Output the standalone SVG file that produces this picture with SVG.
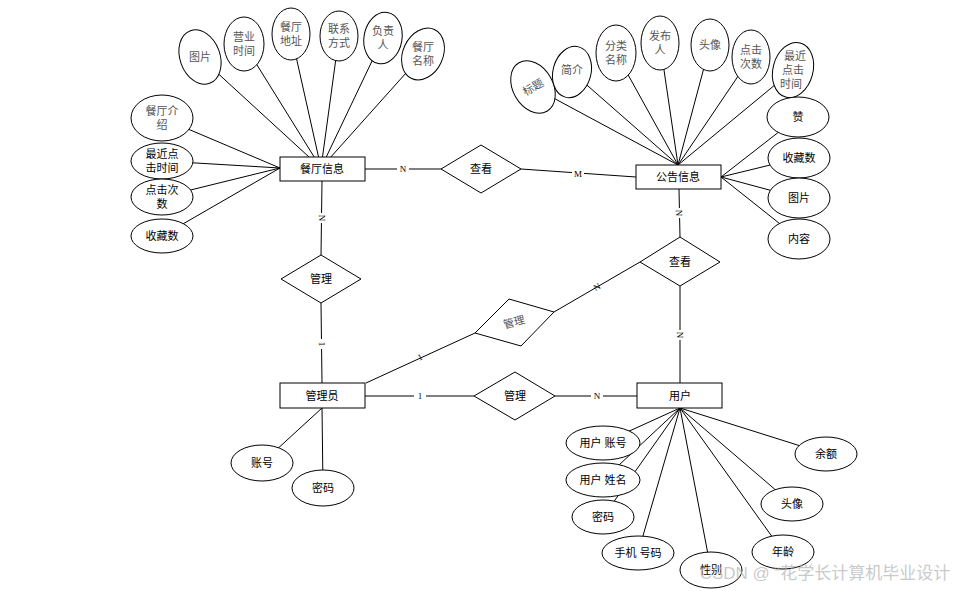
<svg xmlns="http://www.w3.org/2000/svg" width="971" height="591" viewBox="0 0 971 591">
<style>
.e{fill:#fff;stroke:#000;stroke-width:1}
.r{fill:#fff;stroke:#000;stroke-width:1}
.c line,.c polyline{stroke:#000;stroke-width:1;fill:none}
text{font-family:"Liberation Sans","Noto Sans CJK SC",sans-serif;font-size:11px;text-anchor:middle;dominant-baseline:central;fill:#000}
.l{font-family:"Liberation Serif",serif;font-size:9px}
.g{fill:#555}
</style>
<rect width="971" height="591" fill="#fff"/>
<g id="connectors" class="c">
<line x1="321" y1="168" x2="200" y2="57"/><line x1="321" y1="168" x2="244" y2="44"/><line x1="321" y1="168" x2="291" y2="34"/><line x1="321" y1="168" x2="339" y2="36"/><line x1="321" y1="168" x2="383" y2="38"/><line x1="321" y1="168" x2="423" y2="54"/>
<line x1="280" y1="168" x2="162" y2="118"/><line x1="280" y1="168" x2="162" y2="161"/><line x1="280" y1="168" x2="162" y2="197"/><line x1="280" y1="168" x2="162" y2="236"/>
<line x1="678" y1="165" x2="533" y2="87"/><line x1="678" y1="165" x2="572" y2="72"/><line x1="678" y1="165" x2="616" y2="53"/><line x1="678" y1="165" x2="660" y2="43"/><line x1="678" y1="165" x2="710" y2="45"/><line x1="678" y1="165" x2="751" y2="57"/><line x1="678" y1="165" x2="793" y2="70"/>
<line x1="721" y1="177" x2="798" y2="117"/><line x1="721" y1="177" x2="799" y2="158"/><line x1="721" y1="177" x2="799" y2="198"/><line x1="721" y1="177" x2="799" y2="239"/>
<line x1="365" y1="169" x2="441" y2="169"/><line x1="521" y1="169" x2="636" y2="177"/>
<line x1="679" y1="189" x2="680" y2="237"/><line x1="680" y1="286" x2="680" y2="383"/>
<line x1="322" y1="181" x2="321" y2="255"/><line x1="321" y1="303" x2="322" y2="383"/>
<line x1="366" y1="383" x2="475" y2="333"/><line x1="554" y1="312" x2="640" y2="262"/>
<line x1="365" y1="396" x2="474" y2="396"/><line x1="555" y1="396" x2="637" y2="396"/>
<line x1="322" y1="408" x2="262" y2="463"/><line x1="322" y1="408" x2="323" y2="488"/>
<line x1="680" y1="408" x2="603" y2="443"/><line x1="680" y1="408" x2="603" y2="480"/><line x1="680" y1="408" x2="603" y2="517"/><line x1="680" y1="408" x2="638" y2="553"/><line x1="680" y1="408" x2="711" y2="570"/><line x1="680" y1="408" x2="783" y2="552"/><line x1="680" y1="408" x2="792" y2="504"/><line x1="680" y1="408" x2="826" y2="454"/>
</g>
<g id="labels">
<rect x="397" y="163" width="12" height="12" fill="#fff"/><text class="l" x="403" y="169">N</text>
<rect x="572" y="168" width="12" height="12" fill="#fff"/><text class="l" x="578" y="174">M</text>
<rect x="674" y="208" width="10" height="10" fill="#fff"/><text class="l" x="679" y="213" transform="rotate(90 679 213)">N</text>
<rect x="675" y="330" width="10" height="10" fill="#fff"/><text class="l" x="680" y="335" transform="rotate(90 680 335)">N</text>
<rect x="317" y="213" width="10" height="10" fill="#fff"/><text class="l" x="322" y="218" transform="rotate(90 322 218)">N</text>
<rect x="317" y="339" width="10" height="10" fill="#fff"/><text class="l" x="322" y="344" transform="rotate(90 322 344)">1</text>
<text class="l" x="420" y="357" transform="rotate(-25 420 357)">1</text>
<text class="l" x="597" y="287" transform="rotate(-30 597 287)">N</text>
<rect x="414" y="390" width="12" height="12" fill="#fff"/><text class="l" x="420" y="396">1</text>
<rect x="591" y="390" width="12" height="12" fill="#fff"/><text class="l" x="597" y="396">N</text>
</g>
<g id="餐厅信息"><rect class="r" x="280" y="157" width="85" height="24"/><text x="322" y="169">餐厅信息</text></g>
<g id="公告信息"><rect class="r" x="636" y="165" width="85" height="24"/><text x="678" y="177">公告信息</text></g>
<g id="管理员"><rect class="r" x="280" y="383" width="85" height="25"/><text x="322" y="396">管理员</text></g>
<g id="用户"><rect class="r" x="637" y="383" width="85" height="25"/><text x="680" y="396">用户</text></g>
<g id="查看1"><polygon class="e" points="441,169 481,145 521,169 481,193"/><text x="481" y="169">查看</text></g>
<g id="查看2"><polygon class="e" points="640,262 680,237 720,262 680,286"/><text x="680" y="262">查看</text></g>
<g id="管理1"><polygon class="e" points="281,279 321,255 361,279 321,303"/><text x="321" y="279">管理</text></g>
<g id="管理2"><polygon class="e" points="475,333 509,299 554,312 521,346"/><text class="g" x="514" y="322" transform="rotate(-15 514 322)">管理</text></g>
<g id="管理3"><polygon class="e" points="474,396 515,372 555,396 515,420"/><text x="515" y="396">管理</text></g>
<g id="a1"><ellipse class="e" cx="200" cy="57" rx="20" ry="28" transform="rotate(-20 200 57)"/><text class="g" x="200" y="57">图片</text></g>
<g id="a2"><ellipse class="e" cx="244" cy="44" rx="20" ry="27"/><text class="g" x="244" y="37">营业</text><text class="g" x="244" y="51">时间</text></g>
<g id="a3"><ellipse class="e" cx="291" cy="34" rx="19" ry="26"/><text class="g" x="291" y="27">餐厅</text><text class="g" x="291" y="41">地址</text></g>
<g id="a4"><ellipse class="e" cx="339" cy="36" rx="19" ry="25"/><text class="g" x="339" y="29">联系</text><text class="g" x="339" y="43">方式</text></g>
<g id="a5"><ellipse class="e" cx="383" cy="38" rx="19" ry="26" transform="rotate(10 383 38)"/><text class="g" x="383" y="31">负责</text><text class="g" x="383" y="45">人</text></g>
<g id="a6"><ellipse class="e" cx="423" cy="54" rx="20" ry="27" transform="rotate(25 423 54)"/><text class="g" x="423" y="47">餐厅</text><text class="g" x="423" y="61">名称</text></g>
<g id="a7"><ellipse class="e" cx="162" cy="118" rx="31" ry="23"/><text class="g" x="162" y="111">餐厅介</text><text class="g" x="162" y="125">绍</text></g>
<g id="a8"><ellipse class="e" cx="162" cy="161" rx="31" ry="18"/><text x="162" y="154">最近点</text><text x="162" y="168">击时间</text></g>
<g id="a9"><ellipse class="e" cx="162" cy="197" rx="31" ry="18"/><text x="162" y="190">点击次</text><text x="162" y="204">数</text></g>
<g id="a10"><ellipse class="e" cx="162" cy="236" rx="31" ry="17"/><text x="162" y="236">收藏数</text></g>
<g id="b1"><ellipse class="e" cx="533" cy="87" rx="20" ry="28" transform="rotate(-30 533 87)"/><text class="g" x="533" y="87" transform="rotate(-30 533 87)">标题</text></g>
<g id="b2"><ellipse class="e" cx="572" cy="72" rx="19" ry="26" transform="rotate(15 572 72)"/><text class="g" x="572" y="70">简介</text></g>
<g id="b3"><ellipse class="e" cx="616" cy="53" rx="20" ry="28"/><text class="g" x="616" y="46">分类</text><text class="g" x="616" y="60">名称</text></g>
<g id="b4"><ellipse class="e" cx="660" cy="43" rx="19" ry="27"/><text class="g" x="660" y="36">发布</text><text class="g" x="660" y="50">人</text></g>
<g id="b5"><ellipse class="e" cx="710" cy="45" rx="19" ry="26"/><text class="g" x="710" y="45">头像</text></g>
<g id="b6"><ellipse class="e" cx="751" cy="57" rx="19" ry="27"/><text class="g" x="751" y="50">点击</text><text class="g" x="751" y="64">次数</text></g>
<g id="b7"><ellipse class="e" cx="793" cy="70" rx="20" ry="28" transform="rotate(15 793 70)"/><text class="g" x="795" y="56">最近</text><text class="g" x="793" y="70">点击</text><text class="g" x="791" y="84">时间</text></g>
<g id="b8"><ellipse class="e" cx="798" cy="117" rx="31" ry="20"/><text x="798" y="117">赞</text></g>
<g id="b9"><ellipse class="e" cx="799" cy="158" rx="31" ry="20"/><text x="799" y="158">收藏数</text></g>
<g id="b10"><ellipse class="e" cx="799" cy="198" rx="31" ry="20"/><text x="799" y="198">图片</text></g>
<g id="b11"><ellipse class="e" cx="799" cy="239" rx="31" ry="20"/><text x="799" y="239">内容</text></g>
<g id="c1"><ellipse class="e" cx="262" cy="463" rx="31" ry="18"/><text x="262" y="463">账号</text></g>
<g id="c2"><ellipse class="e" cx="323" cy="488" rx="31" ry="18"/><text x="323" y="488">密码</text></g>
<g id="d1"><ellipse class="e" cx="603" cy="443" rx="37" ry="17"/><text x="603" y="443">用户 账号</text></g>
<g id="d2"><ellipse class="e" cx="603" cy="480" rx="37" ry="17"/><text x="603" y="480">用户 姓名</text></g>
<g id="d3"><ellipse class="e" cx="603" cy="517" rx="31" ry="17"/><text x="603" y="517">密码</text></g>
<g id="d4"><ellipse class="e" cx="638" cy="553" rx="36" ry="17"/><text x="638" y="553">手机 号码</text></g>
<g id="d5"><ellipse class="e" cx="711" cy="570" rx="31" ry="18"/><text x="711" y="570">性别</text></g>
<g id="d6"><ellipse class="e" cx="783" cy="552" rx="31" ry="17"/><text x="783" y="552">年龄</text></g>
<g id="d7"><ellipse class="e" cx="792" cy="504" rx="31" ry="17"/><text x="792" y="504">头像</text></g>
<g id="d8"><ellipse class="e" cx="826" cy="454" rx="31" ry="17"/><text x="826" y="454">余额</text></g>
<text x="825" y="573" style="font-size:17px;fill:#bbb;fill-opacity:0.8">CSDN @ “花学长计算机毕业设计</text>
</svg>
